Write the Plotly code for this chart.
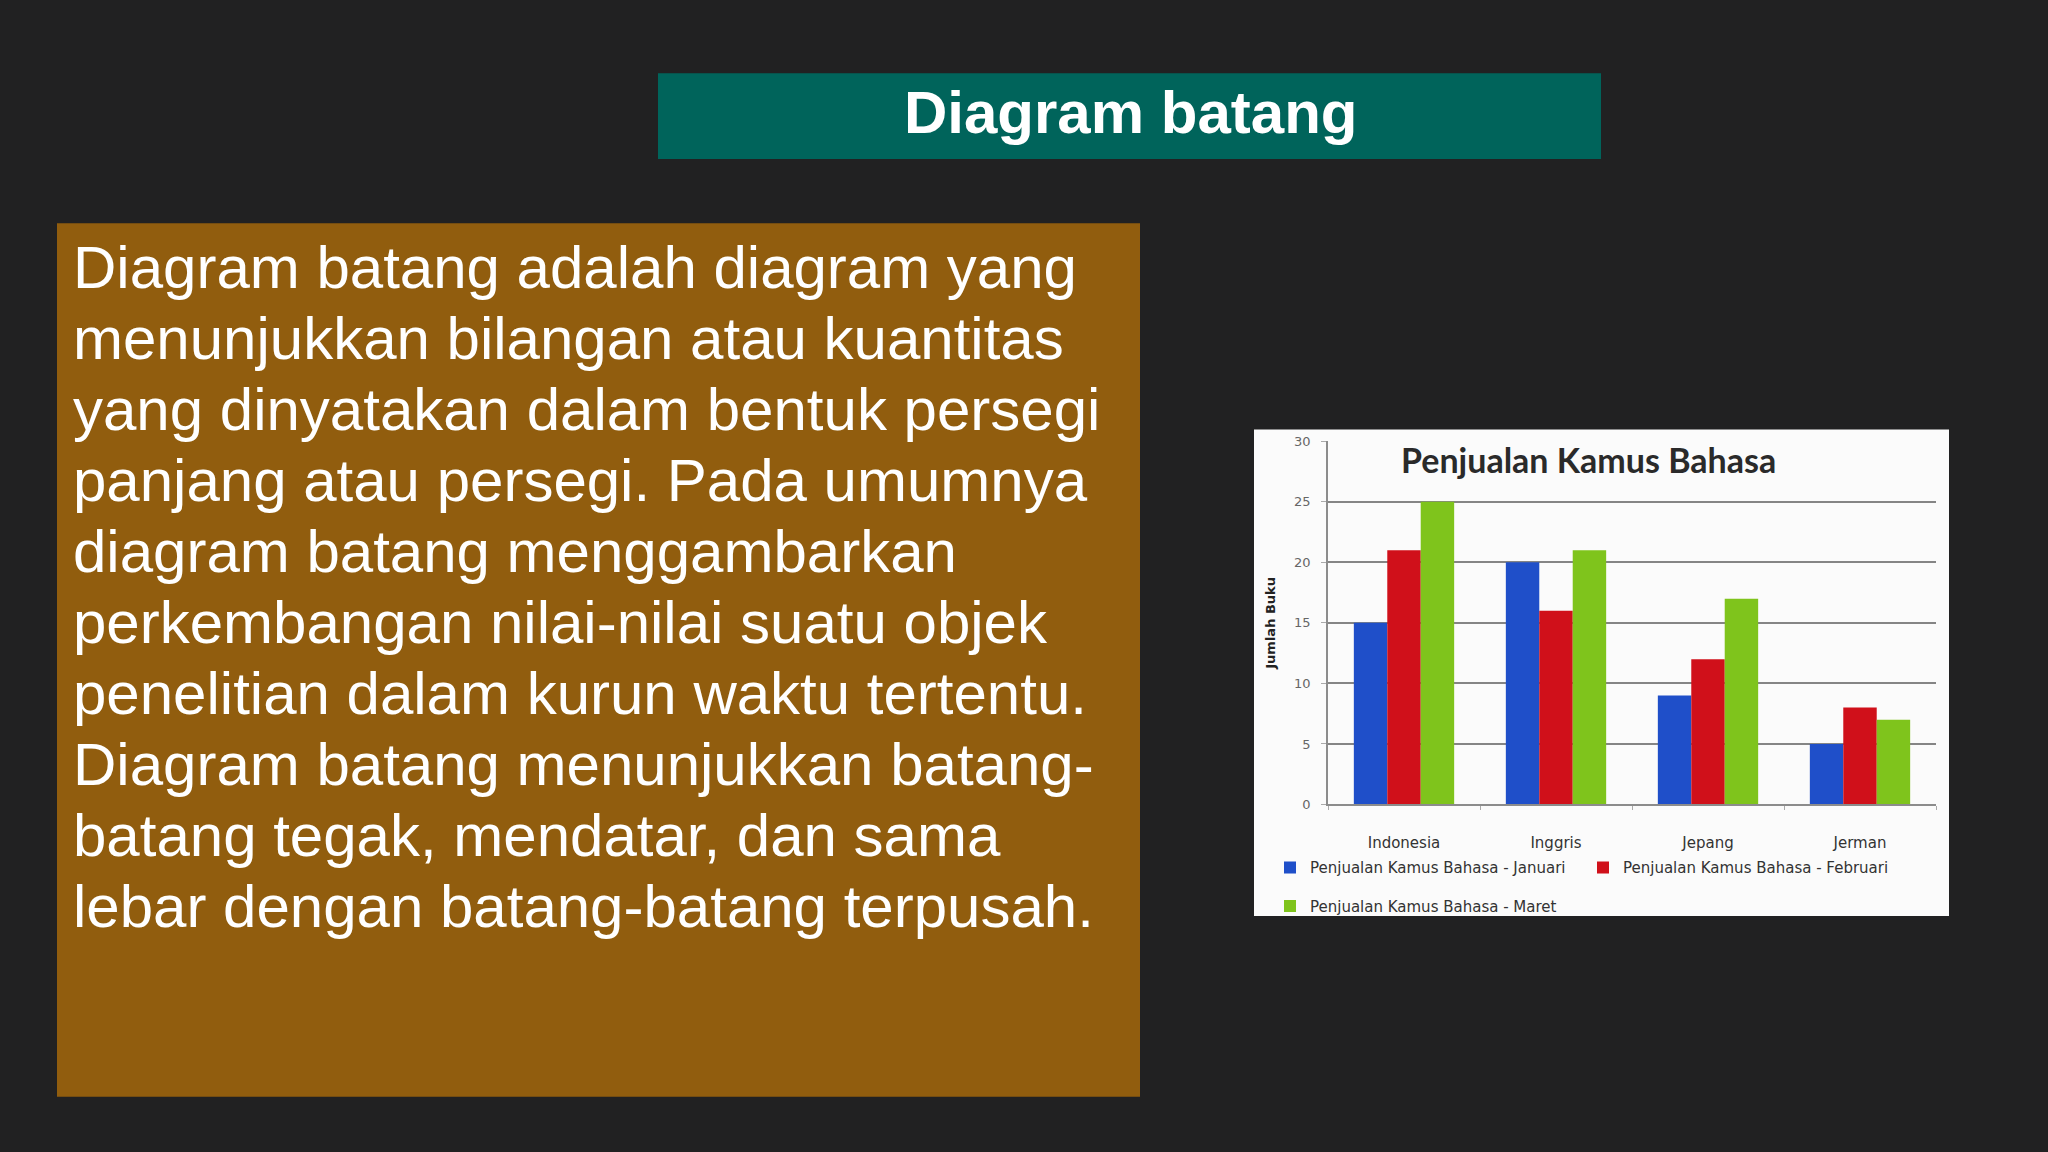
import plotly.graph_objects as go

# chart data
negara = ["Indonesia", "Inggris", "Jepang", "Jerman"]
januari = [15, 20, 9, 5]
februari = [21, 16, 12, 8]
maret = [25, 21, 17, 7]
nama_seri = ["Penjualan Kamus Bahasa - Januari",
             "Penjualan Kamus Bahasa - Februari",
             "Penjualan Kamus Bahasa - Maret"]
y_ticks = [0, 5, 10, 15, 20, 25, 30]

judul = "Diagram batang"
judul_grafik = "Penjualan Kamus Bahasa"
paragraf = [
    "Diagram batang adalah diagram yang",
    "menunjukkan bilangan atau kuantitas",
    "yang dinyatakan dalam bentuk persegi",
    "panjang atau persegi. Pada umumnya",
    "diagram batang menggambarkan",
    "perkembangan nilai-nilai suatu objek",
    "penelitian dalam kurun waktu tertentu.",
    "Diagram batang menunjukkan batang-",
    "batang tegak, mendatar, dan sama",
    "lebar dengan batang-batang terpusah.",
]

W, H = 2048, 1152


def px_x(x):
    return x / W


def px_y(y):
    return 1 - y / H


warna = ["#1f4fc9", "#d0101a", "#7fc41c"]
fig = go.Figure()
for vals, nama, c, lg in zip([januari, februari, maret], nama_seri, warna,
                              ["legend", "legend", "legend2"]):
    fig.add_trace(go.Bar(x=negara, y=vals, name=nama, marker_color=c,
                         marker_line_width=0, legend=lg))

shapes = [
    # teal title bar
    dict(type="rect", xref="paper", yref="paper", x0=px_x(658), x1=px_x(1601),
         y0=px_y(154), y1=px_y(67), fillcolor="#00645b", line_width=0, layer="below"),
    # brown text box
    dict(type="rect", xref="paper", yref="paper", x0=px_x(57), x1=px_x(1140),
         y0=px_y(1104), y1=px_y(219), fillcolor="#915d0e", line_width=0, layer="below"),
    # white chart picture
    dict(type="rect", xref="paper", yref="paper", x0=px_x(1254), x1=px_x(1949),
         y0=px_y(921), y1=px_y(428), fillcolor="#fbfbfb", line_width=0, layer="below"),
]

annotations = [
    dict(text="<b>" + judul + "</b>", xref="paper", yref="paper",
         x=px_x(1130), y=px_y(107), showarrow=False, xanchor="center", yanchor="middle",
         font=dict(family="Liberation Sans", size=60, color="white")),
    dict(text="<b>" + judul_grafik + "</b>", xref="paper", yref="paper",
         x=px_x(1588), y=px_y(458), showarrow=False, xanchor="center", yanchor="middle",
         font=dict(family="Lato", size=34, color="#2a2a2a")),
]
for i, baris in enumerate(paragraf):
    annotations.append(dict(
        text=baris, xref="paper", yref="paper", x=px_x(71), y=px_y(264 + 71.9 * i),
        showarrow=False, xanchor="left", yanchor="middle",
        font=dict(family="Liberation Sans", size=60, color="white")))

leg_font = dict(family="DejaVu Sans", size=15, color="#333")
fig.update_layout(
    width=W, height=H,
    margin=dict(l=0, r=0, t=0, b=0),
    paper_bgcolor="#212122",
    plot_bgcolor="rgba(0,0,0,0)",
    shapes=shapes,
    annotations=annotations,
    barmode="group",
    bargap=0.34,
    bargroupgap=0,
    legend=dict(orientation="h", x=px_x(1270), y=px_y(872), xanchor="left", yanchor="middle",
                font=leg_font, bgcolor="rgba(0,0,0,0)", entrywidth=268, itemwidth=30),
    legend2=dict(orientation="h", x=px_x(1270), y=px_y(911), xanchor="left", yanchor="middle",
                 font=leg_font, bgcolor="rgba(0,0,0,0)", itemwidth=30),
    xaxis=dict(domain=[px_x(1328), px_x(1936)], showgrid=False, showline=True,
               linecolor="#8c8c8c", linewidth=1.5, ticks="outside", tickson="boundaries",
               ticklen=4, tickcolor="#aaa", ticklabelstandoff=24,
               tickfont=dict(family="DejaVu Sans", size=15, color="#333")),
    yaxis=dict(domain=[px_y(808), px_y(440)], range=[0, 30], tickvals=y_ticks,
               showgrid=True, gridcolor="#858585", gridwidth=1.5, zeroline=False,
               showline=True, linecolor="#8c8c8c", linewidth=1.5, ticks="outside",
               ticklen=5, tickcolor="#aaa", ticklabelstandoff=8,
               tickfont=dict(family="DejaVu Sans", size=13, color="#666"),
               title=dict(text="<b>Jumlah Buku</b>", standoff=16,
                          font=dict(family="DejaVu Sans", size=13, color="#222"))),
)

fig.write_html("out.html", config={"displayModeBar": False},
               post_script="document.body.style.margin='0';")
